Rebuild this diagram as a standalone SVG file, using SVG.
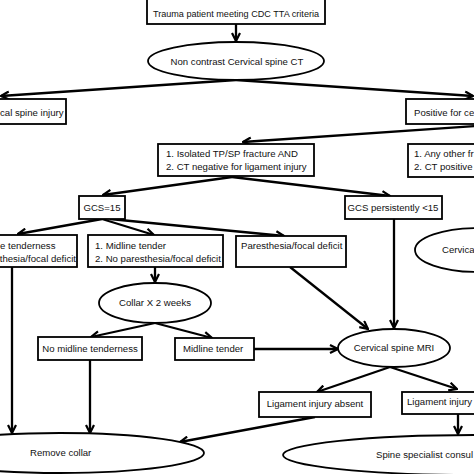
<svg xmlns="http://www.w3.org/2000/svg" width="474" height="474" viewBox="0 0 474 474">
<defs>
<marker id="arr" viewBox="0 0 10 10" refX="9" refY="5" markerWidth="10" markerHeight="10" markerUnits="userSpaceOnUse" orient="auto">
<path d="M1,1 L9,5 L1,9" fill="none" stroke="#000" stroke-width="2.2"/>
</marker>
<style>
.box{fill:#fff;stroke:#000;stroke-width:1.8}
.t{font-family:"Liberation Sans",Arial,sans-serif;font-size:9.6px;fill:#111}
.c{text-anchor:middle}
.e{text-anchor:end}
.ln{fill:none;stroke:#000;stroke-width:2.3;marker-end:url(#arr)}
</style>
</defs>
<rect width="474" height="474" fill="#fff"/>
<g id="connectors">
<path class="ln" d="M236,24 L236,41"/>
<path class="ln" d="M236,80 L1,96"/>
<path class="ln" d="M236,80 L473,96"/>
<path class="ln" d="M476,126 L243,142"/>
<path class="ln" d="M232,177 L103,195"/>
<path class="ln" d="M232,177 L390,196"/>
<path class="ln" d="M102,219 L18,234"/>
<path class="ln" d="M102,219 L154,235"/>
<path class="ln" d="M110,219 L284,236"/>
<path class="ln" d="M394,219 L394,328"/>
<path class="ln" d="M155,267 L155,282"/>
<path class="ln" d="M155,323 L91,337"/>
<path class="ln" d="M155,323 L212,338"/>
<path class="ln" d="M254,349 L338,349"/>
<path class="ln" d="M290,267 L368,329"/>
<path class="ln" d="M12,267 L12,433"/>
<path class="ln" d="M90,360 L90,433"/>
<path class="ln" d="M390,367 L317,392"/>
<path class="ln" d="M390,367 L457,389"/>
<path class="ln" d="M315,417 L180,442"/>
<path class="ln" d="M458,414 L458,434"/>
</g>
<g id="trauma"><rect class="box" x="147" y="-5" width="178" height="29"/><text class="t c" x="236" y="17" style="font-size:9.1px">Trauma patient meeting CDC TTA criteria</text></g>
<g id="ct"><ellipse class="box" cx="236" cy="61" rx="88" ry="19"/><text class="t c" x="237" y="65">Non contrast Cervical spine CT</text></g>
<g id="negative"><rect class="box" x="-5" y="99" width="71" height="25"/><text class="t" x="0" y="116">cal spine injury</text></g>
<g id="positive"><rect class="box" x="406" y="99" width="75" height="25"/><text class="t" x="414" y="116">Positive for ce</text></g>
<g id="isolated"><rect class="box" x="158" y="144" width="156" height="32"/><text class="t" x="166" y="157">1. Isolated TP/SP fracture AND</text><text class="t" x="166" y="170">2. CT negative for ligament injury</text></g>
<g id="other"><rect class="box" x="408" y="144" width="75" height="33"/><text class="t" x="414" y="157">1. Any other fr</text><text class="t" x="414" y="170">2. CT positive</text></g>
<g id="gcs15"><rect class="box" x="79" y="196" width="46" height="23"/><text class="t c" x="102" y="211">GCS=15</text></g>
<g id="gcslow"><rect class="box" x="345" y="196" width="97" height="23"/><text class="t c" x="393" y="211">GCS persistently &lt;15</text></g>
<g id="nomidline1"><rect class="box" x="-5" y="235" width="82" height="32"/><text class="t" x="0" y="249">e tenderness</text><text class="t e" x="76" y="262">thesia/focal deficit</text></g>
<g id="midline1"><rect class="box" x="88" y="235" width="135" height="32"/><text class="t" x="95" y="249">1. Midline tender</text><text class="t" x="95" y="262">2. No paresthesia/focal deficit</text></g>
<g id="paresthesia"><rect class="box" x="236" y="236" width="110" height="31"/><text class="t" x="241" y="249">Paresthesia/focal deficit</text></g>
<g id="cervical"><ellipse class="box" cx="478" cy="250" rx="63" ry="22"/><text class="t" x="442" y="253">Cervica</text></g>
<g id="collar"><ellipse class="box" cx="155" cy="303" rx="56" ry="20"/><text class="t c" x="155" y="306">Collar X 2 weeks</text></g>
<g id="nomidline2"><rect class="box" x="38" y="337" width="104" height="23"/><text class="t c" x="90" y="352">No midline tenderness</text></g>
<g id="midline2"><rect class="box" x="175" y="338" width="79" height="22"/><text class="t" x="183" y="352">Midline tender</text></g>
<g id="mri"><ellipse class="box" cx="394" cy="348" rx="56" ry="19"/><text class="t c" x="394" y="351">Cervical spine MRI</text></g>
<g id="ligabsent"><rect class="box" x="259" y="392" width="112" height="25"/><text class="t c" x="315" y="407">Ligament injury absent</text></g>
<g id="ligpresent"><rect class="box" x="402" y="392" width="80" height="22"/><text class="t" x="407" y="405">Ligament injury</text></g>
<g id="remove"><ellipse class="box" cx="60" cy="453" rx="144" ry="20"/><text class="t" x="30" y="456">Remove collar</text></g>
<g id="spine"><ellipse class="box" cx="475" cy="455" rx="192" ry="20"/><text class="t" x="376" y="458">Spine specialist consul</text></g>
</svg>
